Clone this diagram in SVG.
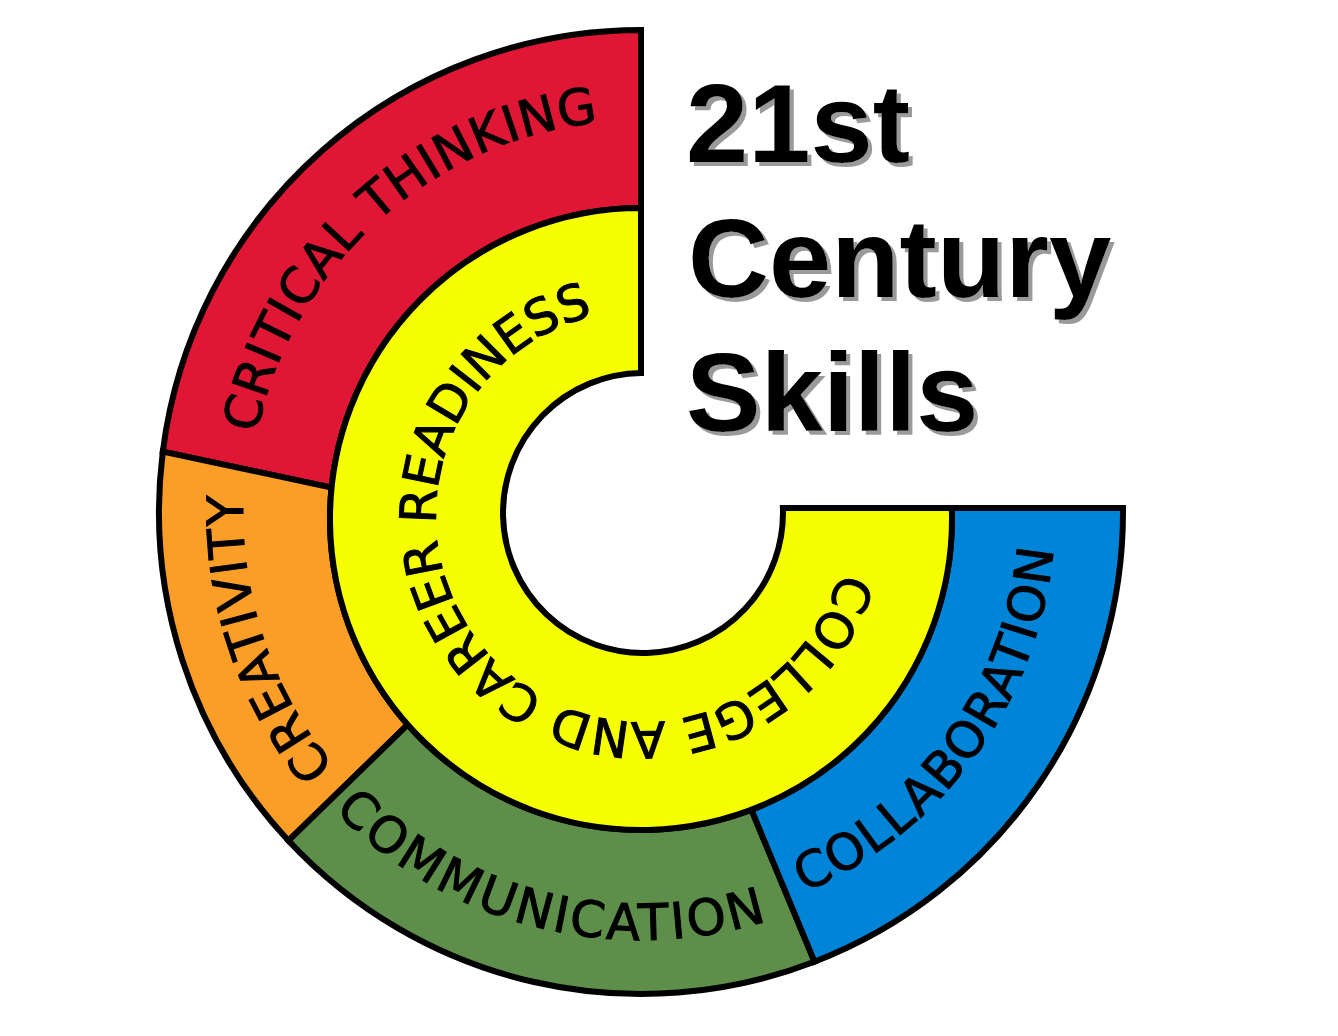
<svg xmlns="http://www.w3.org/2000/svg" width="1338" height="1036" viewBox="0 0 1338 1036">
<style>
.seg{stroke:#000;stroke-width:6;stroke-linejoin:miter}
.lbl{font-family:"DejaVu Sans",sans-serif;font-size:50px;fill:#000;stroke:#000;stroke-width:1}
.title{font-family:"Liberation Sans",Arial,sans-serif;font-weight:bold;font-size:112px;fill:#000;filter:url(#shadow)}
</style>
<defs>
<filter id="shadow" x="-10%" y="-10%" width="130%" height="130%">
<feDropShadow dx="4" dy="4" stdDeviation="0.6" flood-color="#9a9a9a" flood-opacity="1"/>
</filter>
<path id="pCrit" d="M256.9,433.8 A392 392 0 0 1 675.2,121.5"/>
<path id="pCrea" d="M334.8,766.2 A398 398 0 0 1 249.0,442.9"/>
<path id="pColl" d="M804.1,892.5 A414 414 0 0 0 1053.4,475.9"/>
<path id="pComm" d="M334.2,810.4 A428 428 0 0 0 855,882.7"/>
<path id="pCol" d="M840.3,571.7 A206 206 0 1 1 677.8,313.1"/>
</defs>
<rect width="1338" height="1036" fill="#fff"/>
<g id="critical-thinking">
<path class="seg" fill="#DF1735" d="M641,30 A482 482 0 0 0 162.8,451.6 L331.6,487.6 A311 311 0 0 1 641,208 Z"/>
<text class="lbl"><textPath href="#pCrit" textLength="494" lengthAdjust="spacing">CRITICAL THINKING</textPath></text>
</g>
<g id="creativity">
<path class="seg" fill="#FA9E28" d="M162.8,451.6 A482 482 0 0 0 288.5,840.7 L407.7,724.7 A311 311 0 0 1 331.6,487.6 Z"/>
<text class="lbl"><textPath href="#pCrea" textLength="292" lengthAdjust="spacing">CREATIVITY</textPath></text>
</g>
<g id="communication">
<path class="seg" fill="#5E8F4A" d="M288.5,840.7 A482 482 0 0 0 814.5,961.7 L751.4,809.7 A311 311 0 0 1 407.7,724.7 Z"/>
<text class="lbl"><textPath href="#pComm" textLength="470" lengthAdjust="spacing">COMMUNICATION</textPath></text>
</g>
<g id="collaboration">
<path class="seg" fill="#0084D7" d="M814.5,961.7 A482 482 0 0 0 1123,508 L951.8,508 A311 311 0 0 1 751.4,809.7 Z"/>
<text class="lbl"><textPath href="#pColl" textLength="445" lengthAdjust="spacing">COLLABORATION</textPath></text>
</g>
<g id="college-career-readiness">
<path class="seg" fill="#F5FF00" d="M641,208 A311 311 0 1 0 951.8,508 L782.9,508 A140 140 0 1 1 641,373 Z"/>
<text class="lbl"><textPath href="#pCol" textLength="865" lengthAdjust="spacing">COLLEGE AND CAREER READINESS</textPath></text>
</g>
<g id="title" class="title">
<text x="686" y="162">21st</text>
<text x="688" y="297">Century</text>
<text x="686" y="431">Skills</text>
</g>
</svg>
